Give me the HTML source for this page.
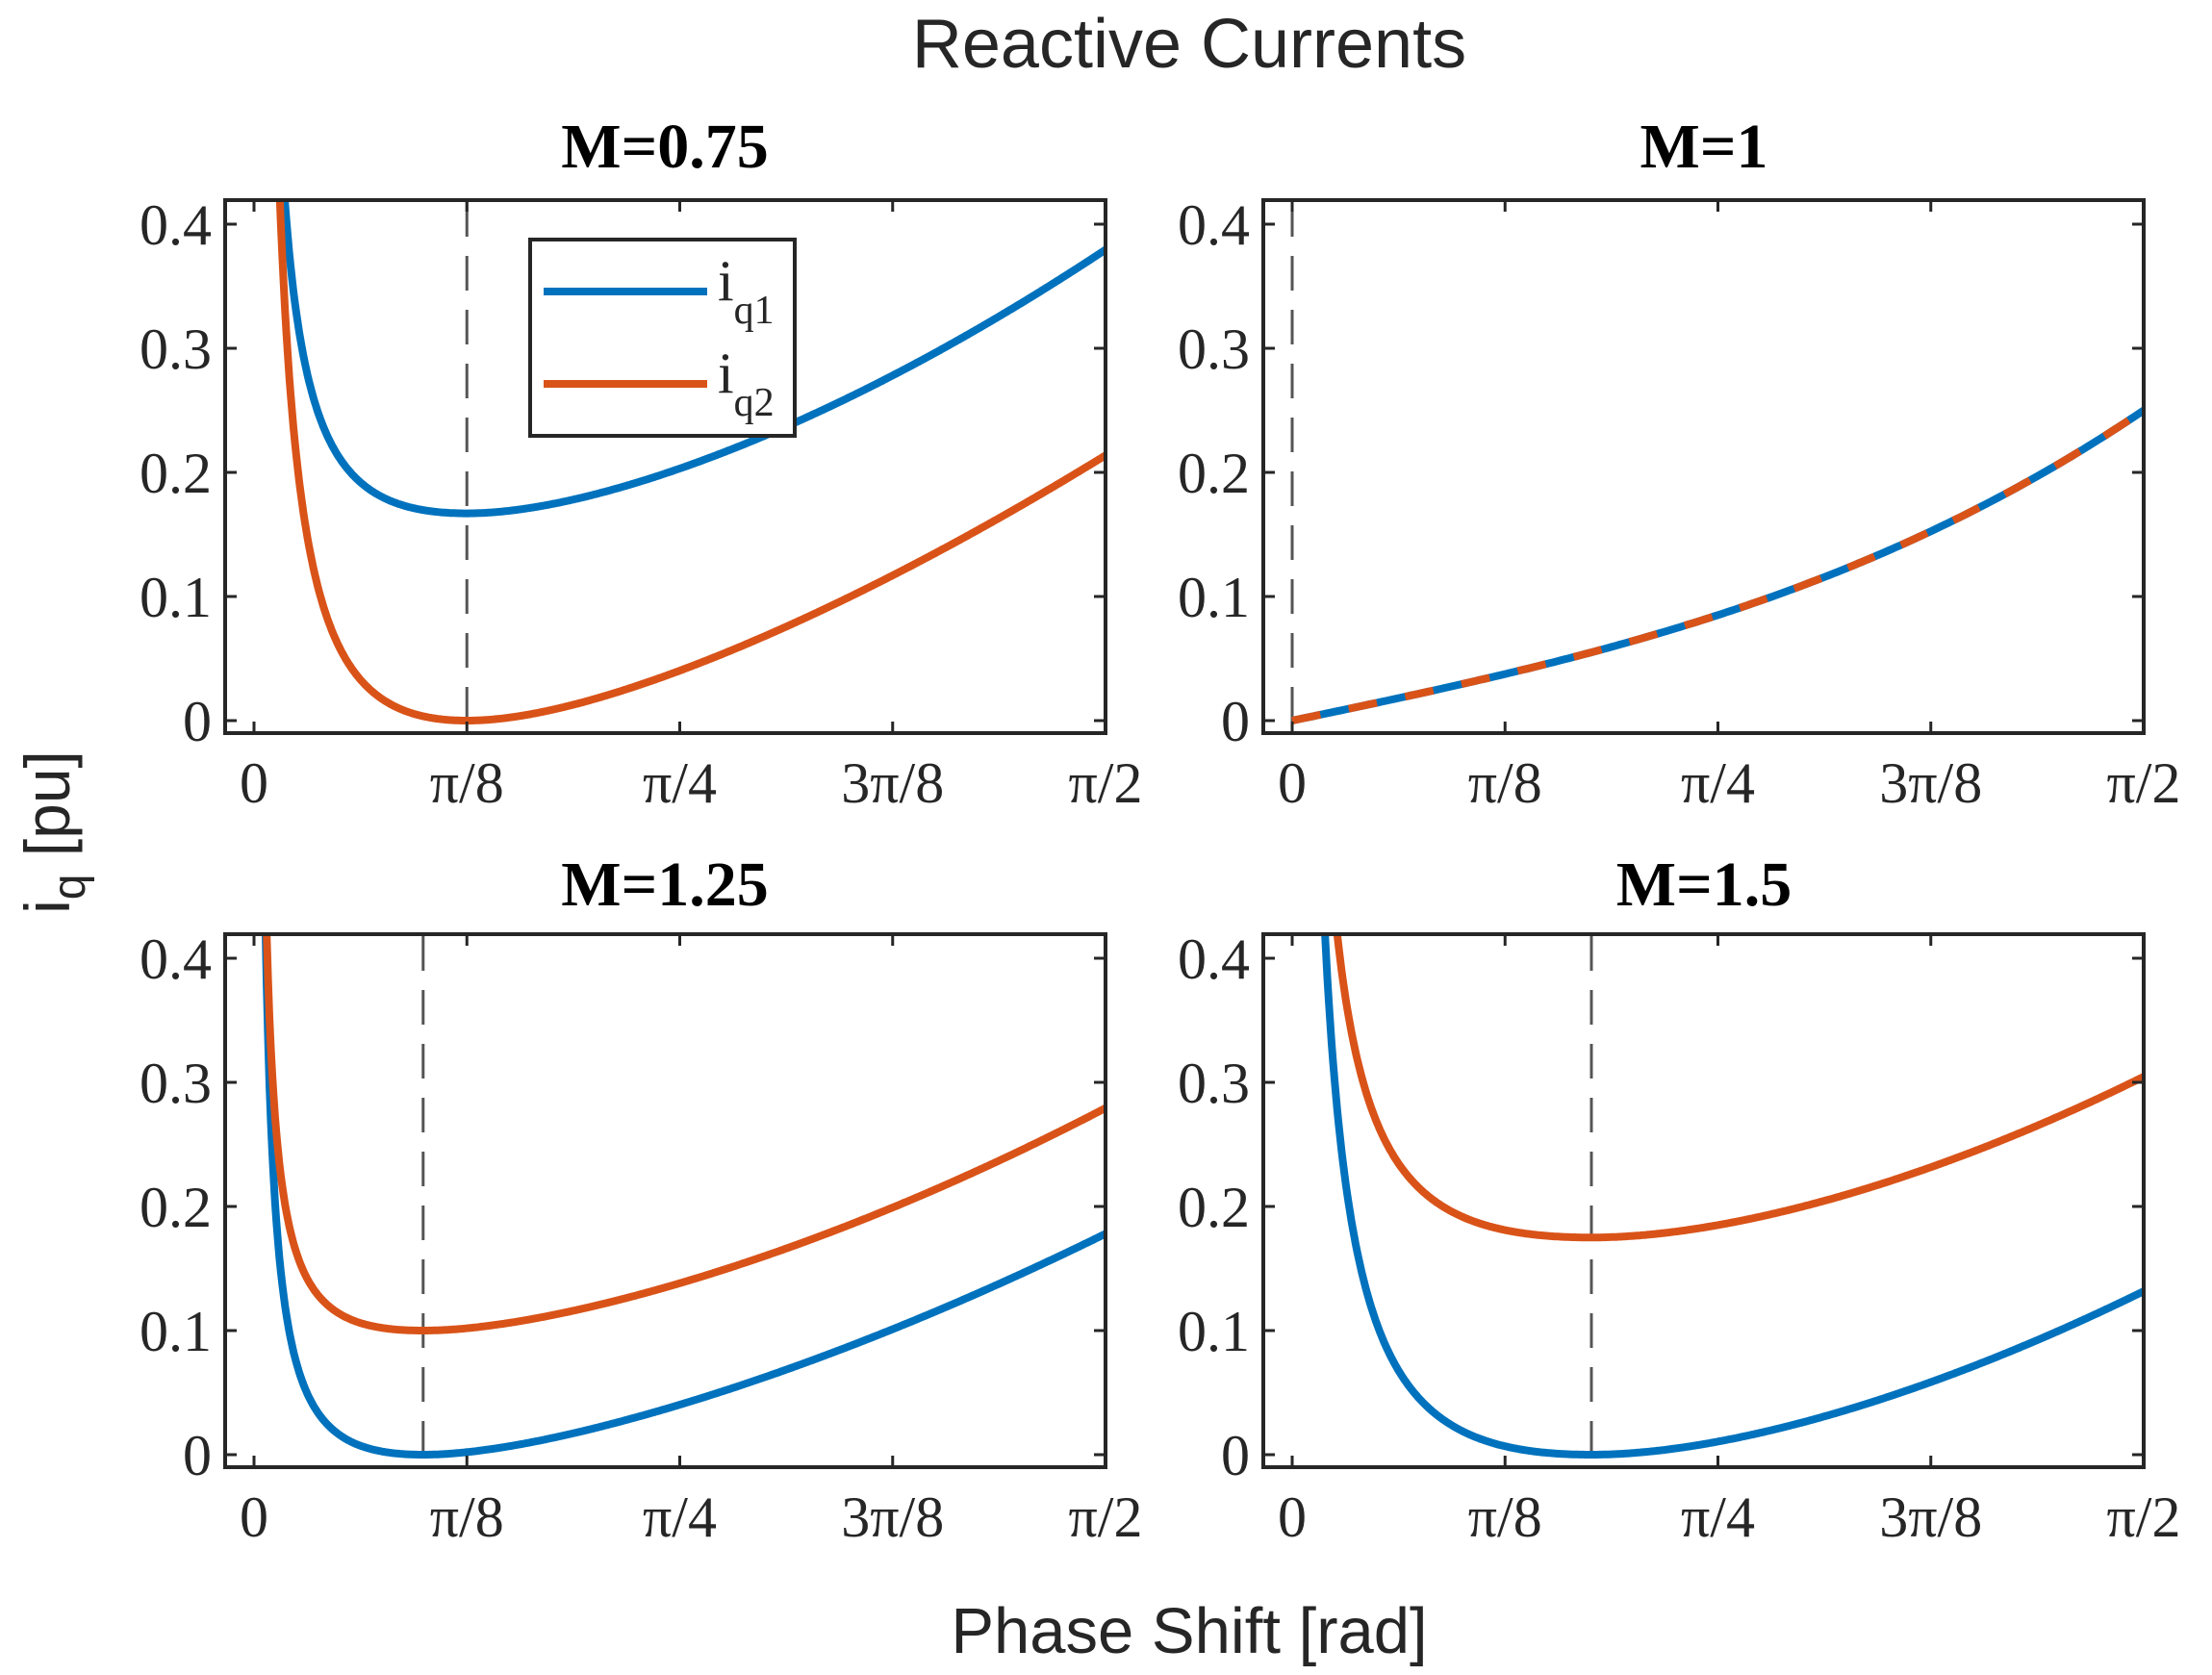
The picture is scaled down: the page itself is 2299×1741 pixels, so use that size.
<!DOCTYPE html>
<html><head><meta charset="utf-8"><style>
html,body{margin:0;padding:0;background:#fff;}
svg{display:block;}
.tk{font-family:"Liberation Serif",serif;font-size:60px;fill:#262626;}
.ti{font-family:"Liberation Serif",serif;font-size:66px;font-weight:bold;fill:#000;}
.sans{font-family:"Liberation Sans",sans-serif;fill:#262626;}
</style></head><body>
<svg id="s" width="2299" height="1741" viewBox="0 0 2299 1741" xmlns="http://www.w3.org/2000/svg">
<rect width="2299" height="1741" fill="#fff"/>
<text class="sans" x="1236" y="70" font-size="72" text-anchor="middle">Reactive Currents</text>
<text class="sans" x="1236" y="1718" font-size="67" text-anchor="middle">Phase Shift [rad]</text>
<text class="sans" font-size="66" transform="translate(72,865) rotate(-90)" text-anchor="middle">i<tspan font-size="48" dy="16">q</tspan><tspan dy="-16"> [pu]</tspan></text>
<g id="g"></g>
</svg>
<script>
const NS="http://www.w3.org/2000/svg";
const g=document.getElementById('g');
function el(t,a,txt){const e=document.createElementNS(NS,t);for(const k in a)e.setAttribute(k,a[k]);if(txt!==undefined)e.textContent=txt;g.appendChild(e);return e;}
const BLUE="#0072BD",ORG="#D95319";
const panels=[
 {L:234,T:208,title:"M=0.75",tx:691,ty:174,d0:Math.PI/8,
  curves:[{c:BLUE,m:0.167,a:0.050,k:0.072},{c:ORG,m:0,a:0.066,k:0.047}]},
 {L:1313,T:208,title:"M=1",tx:1771,ty:174,d0:0,m1:true},
 {L:234,T:971,title:"M=1.25",tx:691,ty:941,d0:0.312,
  curves:[{c:BLUE,m:0,a:0.033,k:0.045},{c:ORG,m:0.1,a:0.028,k:0.056}]},
 {L:1313,T:971,title:"M=1.5",tx:1771,ty:941,d0:0.552,
  curves:[{c:ORG,m:0.175,a:0.051,k:0.066},{c:BLUE,m:0,a:0.058,k:0.06}]}
];
const W=915,H=554,X0off=30,XS=(W-X0off)/(Math.PI/2),YS=1290;
panels.forEach((p,i)=>{
 const x0=p.L+X0off, y0=p.T+541;
 const X=d=>x0+d*XS, Y=v=>y0-v*YS;
 const cid='c'+i;
 const cp=el('clipPath',{id:cid});
 const r=document.createElementNS(NS,'rect');r.setAttribute('x',p.L);r.setAttribute('y',p.T);r.setAttribute('width',W);r.setAttribute('height',H);cp.appendChild(r);
 el('text',{class:'ti',x:p.tx,y:p.ty,'text-anchor':'middle'},p.title);
 el('line',{x1:X(p.d0),x2:X(p.d0),y1:p.T+2,y2:p.T+H,stroke:'#555',"stroke-width":3,"stroke-dasharray":"36,20"});
 if(p.m1){
  let s="";for(let j=0;j<=200;j++){const d=j/200*Math.PI/2;const v=0.0913*d+0.0275*d*d*d;s+=(j?'L':'M')+X(d).toFixed(1)+' '+Y(v).toFixed(1);}
  el('path',{d:s,fill:'none',stroke:BLUE,"stroke-width":8,'clip-path':`url(#${cid})`});
  el('path',{d:s,fill:'none',stroke:ORG,"stroke-width":8,"stroke-dasharray":"30,30",'clip-path':`url(#${cid})`});
 } else {
  p.curves.forEach(c=>{
   let s="";let first=true;
   for(let j=1;j<=600;j++){const d=0.005+j/600*(Math.PI/2-0.005);
     let v=c.m+c.a*(p.d0/d+d/p.d0-2)+(d>p.d0?c.k*(d-p.d0)*(d-p.d0):0);
     if(v>0.5)continue;
     s+=(first?'M':'L')+X(d).toFixed(1)+' '+Y(v).toFixed(1);first=false;}
   el('path',{d:s,fill:'none',stroke:c.c,"stroke-width":8,'clip-path':`url(#${cid})`});
  });
 }
 el('rect',{x:p.L,y:p.T,width:W,height:H,fill:'none',stroke:'#262626',"stroke-width":4});
 const xl=["0","π/8","π/4","3π/8","π/2"];
 for(let k=0;k<5;k++){const x=X(k*Math.PI/8);
  el('line',{x1:x,x2:x,y1:p.T+H,y2:p.T+H-12,stroke:'#262626',"stroke-width":3});
  el('line',{x1:x,x2:x,y1:p.T,y2:p.T+12,stroke:'#262626',"stroke-width":3});
  el('text',{class:'tk',x:x,y:p.T+H+72,'text-anchor':'middle'},xl[k]);}
 for(let k=0;k<5;k++){const y=Y(k/10);
  el('line',{x1:p.L,x2:p.L+12,y1:y,y2:y,stroke:'#262626',"stroke-width":3});
  el('line',{x1:p.L+W,x2:p.L+W-12,y1:y,y2:y,stroke:'#262626',"stroke-width":3});
  el('text',{class:'tk',x:p.L-14,y:y+21,'text-anchor':'end'},k?("0."+k):"0");}
});
el('rect',{x:551,y:249,width:275,height:204,fill:'#fff',stroke:'#262626',"stroke-width":4});
el('line',{x1:565,x2:735,y1:303,y2:303,stroke:BLUE,"stroke-width":8});
el('line',{x1:565,x2:735,y1:399,y2:399,stroke:ORG,"stroke-width":8});
const t1=el('text',{class:'tk',x:746,y:312,fill:'#000'});t1.innerHTML='i<tspan font-size="42" dy="24">q1</tspan>';
const t2=el('text',{class:'tk',x:746,y:408,fill:'#000'});t2.innerHTML='i<tspan font-size="42" dy="24">q2</tspan>';
</script>
</body></html>
